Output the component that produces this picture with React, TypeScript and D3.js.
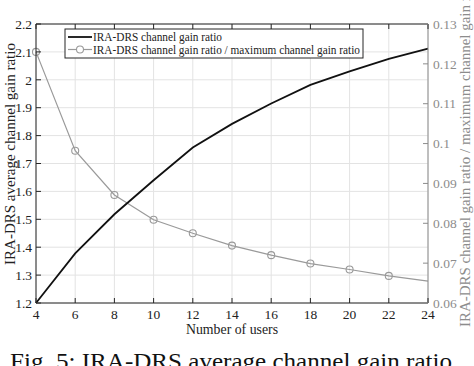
import React from 'react';
import * as d3 from 'd3';

const USERS = [4, 6, 8, 10, 12, 14, 16, 18, 20, 22, 24];
const AVG_GAIN_RATIO = [1.2, 1.378, 1.518, 1.64, 1.757, 1.842, 1.915, 1.982, 2.03, 2.075, 2.112];
const NORMALIZED_RATIO = [0.123, 0.0982, 0.0871, 0.0809, 0.0775, 0.0744, 0.072, 0.0699, 0.0684, 0.0668, 0.0655];
const X_TICKS = [4, 6, 8, 10, 12, 14, 16, 18, 20, 22, 24];
const LEFT_TICKS = [1.2, 1.3, 1.4, 1.5, 1.6, 1.7, 1.8, 1.9, 2, 2.1, 2.2];
const RIGHT_TICKS = [0.06, 0.07, 0.08, 0.09, 0.1, 0.11, 0.12, 0.13];

const W = 474;
const H = 366;
const margin = { top: 24, right: 46, bottom: 63, left: 36 };
const FONT = '"Liberation Serif", "Times New Roman", serif';

const App: React.FC = () => {
    const innerW = W - margin.left - margin.right;
    const innerH = H - margin.top - margin.bottom;

    const x = d3.scaleLinear().domain([4, 24]).range([0, innerW]);
    const yL = d3.scaleLinear().domain([1.2, 2.2]).range([innerH, 0]);
    const yR = d3.scaleLinear().domain([0.06, 0.13]).range([innerH, 0]);

    const blackLine = d3.line<number>()
        .x((_, i) => x(USERS[i]))
        .y(d => yL(d))(AVG_GAIN_RATIO) || '';
    const grayLine = d3.line<number>()
        .x((_, i) => x(USERS[i]))
        .y(d => yR(d))(NORMALIZED_RATIO) || '';

    const gridColor = '#e3e3e3';
    const axisColor = '#262626';
    const rightColor = '#8c8c8c';
    const tick = 5;

    return (
        <div style={{ position: 'fixed', left: 0, top: 0 }}>
            <svg width={W} height={H} style={{ display: 'block', background: '#fff', fontFamily: FONT }}>
                <g transform={`translate(${margin.left}, ${margin.top})`}>
                    {/* grid */}
                    {X_TICKS.map(t => (
                        <line key={'gx' + t} x1={x(t)} x2={x(t)} y1={0} y2={innerH} stroke={gridColor} strokeWidth={1} />
                    ))}
                    {LEFT_TICKS.map(t => (
                        <line key={'gy' + t} x1={0} x2={innerW} y1={yL(t)} y2={yL(t)} stroke={gridColor} strokeWidth={1} />
                    ))}

                    {/* gray series */}
                    <path d={grayLine} fill="none" stroke="#9a9a9a" strokeWidth={1.2} />
                    {NORMALIZED_RATIO.slice(0, -1).map((v, i) => (
                        <circle key={'m' + i} cx={x(USERS[i])} cy={yR(v)} r={3.5} fill="none" stroke="#9a9a9a" strokeWidth={1.1} />
                    ))}

                    {/* black series */}
                    <path d={blackLine} fill="none" stroke="#111" strokeWidth={1.8} />

                    {/* box */}
                    <line x1={0} x2={innerW} y1={0} y2={0} stroke={axisColor} strokeWidth={1} />
                    <line x1={0} x2={innerW} y1={innerH} y2={innerH} stroke={axisColor} strokeWidth={1} />
                    <line x1={0} x2={0} y1={0} y2={innerH} stroke={axisColor} strokeWidth={1} />
                    <line x1={innerW} x2={innerW} y1={0} y2={innerH} stroke={rightColor} strokeWidth={1} />

                    {/* x ticks */}
                    {X_TICKS.map(t => (
                        <g key={'xt' + t}>
                            <line x1={x(t)} x2={x(t)} y1={innerH} y2={innerH - tick} stroke={axisColor} />
                            <line x1={x(t)} x2={x(t)} y1={0} y2={tick} stroke={axisColor} />
                            <text x={x(t)} y={innerH + 16} textAnchor="middle" fontSize={13.5} fill="#222">{t}</text>
                        </g>
                    ))}

                    {/* left ticks */}
                    {LEFT_TICKS.map(t => (
                        <g key={'lt' + t}>
                            <line x1={0} x2={tick} y1={yL(t)} y2={yL(t)} stroke={axisColor} />
                            <text x={-4} y={yL(t)} dy="0.35em" textAnchor="end" fontSize={13.5} fill="#222">{t}</text>
                        </g>
                    ))}

                    {/* right ticks */}
                    {RIGHT_TICKS.map(t => (
                        <g key={'rt' + t}>
                            <line x1={innerW - tick} x2={innerW} y1={yR(t)} y2={yR(t)} stroke={rightColor} />
                            <text x={innerW + 5} y={yR(t)} dy="0.35em" textAnchor="start" fontSize={13.5} fill={rightColor}>{t}</text>
                        </g>
                    ))}

                    {/* axis labels */}
                    <text x={innerW / 2} y={innerH + 31} textAnchor="middle" fontSize={14} fill="#222"
                        textLength={92} lengthAdjust="spacingAndGlyphs">Number of users</text>
                    <text transform={`translate(${-21}, ${265 - margin.top}) rotate(-90)`} textAnchor="start" fontSize={14} fill="#222"
                        textLength={222} lengthAdjust="spacingAndGlyphs">
                        IRA-DRS average channel gain ratio
                    </text>
                    <text transform={`translate(${innerW + 42}, ${327 - margin.top}) rotate(-90)`} textAnchor="start" fontSize={14} fill={rightColor}
                        textLength={353} lengthAdjust="spacingAndGlyphs">
                        IRA-DRS channel gain ratio / maximum channel gain ratio
                    </text>

                    {/* legend */}
                    <g transform="translate(29, 5)">
                        <rect x={0} y={0} width={298} height={29} fill="#fff" stroke={axisColor} strokeWidth={1} />
                        <line x1={3} x2={27} y1={8} y2={8} stroke="#111" strokeWidth={1.8} />
                        <text x={28} y={8} dy="0.35em" fontSize={12} fill="#222"
                            textLength={129} lengthAdjust="spacingAndGlyphs">IRA-DRS channel gain ratio</text>
                        <line x1={3} x2={27} y1={20.5} y2={20.5} stroke="#9a9a9a" strokeWidth={1.2} />
                        <circle cx={15} cy={20.5} r={3.5} fill="#fff" stroke="#9a9a9a" strokeWidth={1.1} />
                        <text x={28} y={20.5} dy="0.35em" fontSize={12} fill="#222"
                            textLength={267} lengthAdjust="spacingAndGlyphs">IRA-DRS channel gain ratio / maximum channel gain ratio</text>
                    </g>
                </g>

                {/* caption (cut off at the bottom) */}
                <text x={10} y={369} fontSize={23} fill="#111" textLength={442} lengthAdjust="spacingAndGlyphs">
                    Fig. 5: IRA-DRS average channel gain ratio
                </text>
            </svg>
        </div>
    );
};

export default App;
